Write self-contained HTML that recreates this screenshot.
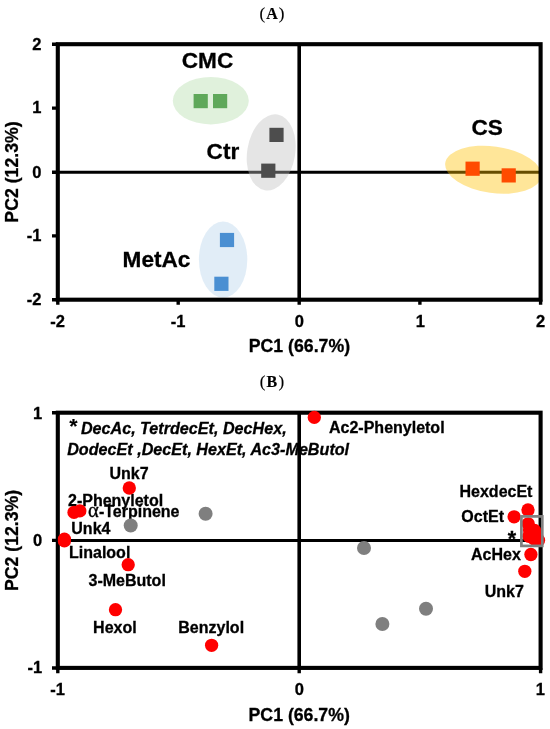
<!DOCTYPE html>
<html><head><meta charset="utf-8">
<style>
html,body{margin:0;padding:0;background:#fff;}
svg{display:block;}
text{font-family:"Liberation Sans",Arial,sans-serif;font-weight:bold;fill:#000;stroke:#000;stroke-width:0.3px;}
.t{font-size:16px;}
.k{font-size:16.5px;}
.g{font-size:22.6px;}
.ax{font-size:17.7px;}
.cap{font-family:"Liberation Serif",serif;font-size:17px;font-weight:normal;stroke-width:0.15px;}
.leg{font-style:italic;font-size:16.15px;}
</style></head><body>
<svg width="550" height="729" viewBox="0 0 550 729">
<rect width="550" height="729" fill="#fff"/>

<!-- ===== Panel A ===== -->
<text class="cap" x="272.5" y="18.5" text-anchor="middle" letter-spacing="1.1">(<tspan font-weight="bold" font-size="16px">A</tspan>)</text>

<g stroke="#000" fill="none">
  <!-- inner axes -->
  <line x1="57.7" y1="172.2" x2="540.6" y2="172.2" stroke-width="3"/>
  <line x1="299.2" y1="44.2" x2="299.2" y2="299.7" stroke-width="3.6"/>
</g>

<!-- ellipses -->
<ellipse cx="210.8" cy="100.7" rx="38" ry="23.7" fill="#64b950" fill-opacity="0.2"/>
<ellipse cx="271.2" cy="152.4" rx="24" ry="38.4" fill="#bebebe" fill-opacity="0.4" transform="rotate(9.5 271.2 152.4)"/>
<ellipse cx="223.1" cy="259.6" rx="24.2" ry="38" fill="#5b9bd5" fill-opacity="0.185"/>
<ellipse cx="493.3" cy="169.7" rx="48.5" ry="23.3" fill="#ffc000" fill-opacity="0.4" transform="rotate(8 493 169.5)"/>

<g stroke="#000" fill="none">
  <rect x="57.8" y="44.2" width="482.8" height="255.5" stroke-width="4.1"/>
  <!-- ticks -->
  <g stroke-width="3.4">
    <path d="M52 44.2H57.7M52 108.1H57.7M52 172.2H57.7M52 235.9H57.7M52 299.7H57.7"/>
    <path d="M57.8 299.7V304.8M178.2 299.7V304.8M299.2 299.7V304.8M419.9 299.7V304.8M540.6 299.7V304.8"/>
  </g>
</g>

<!-- markers -->
<g fill="#5fa85a">
  <rect x="193.6" y="94" width="14.2" height="14.2"/>
  <rect x="213" y="94" width="14.2" height="14.2"/>
</g>
<g fill="#4d4d4d">
  <rect x="269.4" y="127.8" width="14.2" height="14.2"/>
  <rect x="261.2" y="163.6" width="14.2" height="14.2"/>
</g>
<g fill="#4a8fd2">
  <rect x="219.9" y="232.9" width="14.2" height="14.2"/>
  <rect x="214.3" y="276.7" width="14.2" height="14.2"/>
</g>
<g fill="#ff4b00">
  <rect x="465.5" y="161.6" width="14.2" height="14.2"/>
  <rect x="501.6" y="168.3" width="14.2" height="14.2"/>
</g>

<!-- group labels -->
<text class="g" x="181.8" y="68.3">CMC</text>
<text class="g" x="206.6" y="158.6">Ctr</text>
<text class="g" x="122.6" y="267.3">MetAc</text>
<text class="g" x="471.5" y="135">CS</text>

<!-- tick labels -->
<g class="k" text-anchor="end" transform="translate(0.5 0)">
  <text x="41" y="49.8">2</text>
  <text x="41" y="113.1">1</text>
  <text x="41" y="177.8">0</text>
  <text x="41" y="240.8">-1</text>
  <text x="41" y="305.3">-2</text>
</g>
<g class="k" text-anchor="middle">
  <text x="57.7" y="326.7">-2</text>
  <text x="178.2" y="326.7">-1</text>
  <text x="299.3" y="326.7">0</text>
  <text x="420.3" y="326.7">1</text>
  <text x="540.6" y="326.7">2</text>
</g>
<text class="ax" x="299.4" y="351.7" text-anchor="middle">PC1 (66.7%)</text>
<text class="ax" transform="translate(18.1 172) rotate(-90)" text-anchor="middle">PC2 (12.3%)</text>

<!-- ===== Panel B ===== -->
<text class="cap" x="272.5" y="386.8" text-anchor="middle" letter-spacing="1.1">(<tspan font-weight="bold" font-size="16px">B</tspan>)</text>

<g stroke="#000" fill="none">
  <line x1="57.7" y1="540.4" x2="540.6" y2="540.4" stroke-width="3"/>
  <line x1="299.2" y1="412.7" x2="299.2" y2="668" stroke-width="3.6"/>
  <rect x="57.8" y="412.7" width="482.8" height="255.2" stroke-width="4.1"/>
  <g stroke-width="3.4">
    <path d="M52 412.7H57.7M52 540.4H57.7M52 668H57.7"/>
    <path d="M57.8 668V673.3M299.2 668V673.3M540.6 668V673.3"/>
  </g>
</g>

<!-- legend text -->
<text class="leg" x="81" y="433.8"><tspan x="68.4" y="433.4" font-size="21px" stroke-width="0.15">*</tspan><tspan x="80.9" y="433.8">DecAc, TetrdecEt, DecHex,</tspan></text>
<text class="leg" x="67.2" y="454.7">DodecEt ,DecEt, HexEt, Ac3-MeButol</text>

<!-- labels -->
<g class="t" transform="translate(0.5 0.3)">
  <text x="109" y="478.9">Unk7</text>
  <text x="67.5" y="505.5">2-Phenyletol</text>
  <text x="87.6" y="517"><tspan font-weight="normal" font-size="20.5px" font-family="'Liberation Serif',serif" stroke="#000" stroke-width="0.35">α</tspan><tspan x="98.4">-Terpinene</tspan></text>
  <text x="70.8" y="533.8">Unk4</text>
  <text x="68.5" y="557.5">Linalool</text>
  <text x="88" y="586.2">3-MeButol</text>
  <text x="92.6" y="632.8">Hexol</text>
  <text x="177.8" y="632.8">Benzylol</text>
  <text x="328.5" y="433.2">Ac2-Phenyletol</text>
  <text x="459" y="496.6">HexdecEt</text>
  <text x="460.8" y="521.3">OctEt</text>
  <text x="470.5" y="559.9">AcHex</text>
  <text x="484.2" y="596.4">Unk7</text>
  <text x="507.2" y="546.1" font-size="21.5px" stroke-width="0.15">*</text>
</g>

<!-- gray dots -->
<g fill="#7f7f7f">
  <circle cx="130.7" cy="525.5" r="7"/>
  <circle cx="205.6" cy="513.8" r="7"/>
  <circle cx="364" cy="548" r="7"/>
  <circle cx="426" cy="608.8" r="7"/>
  <circle cx="382.4" cy="624" r="7"/>
</g>
<!-- red dots -->
<g fill="#ff0000">
  <circle cx="314.3" cy="417.4" r="6.65"/>
  <circle cx="129.3" cy="488" r="6.65"/>
  <circle cx="74" cy="512.4" r="6.65"/>
  <circle cx="79.8" cy="510.9" r="6.65"/>
  <circle cx="64.4" cy="539.1" r="6.65"/>
  <circle cx="64.4" cy="540.9" r="6.65"/>
  <circle cx="128.2" cy="564.7" r="6.65"/>
  <circle cx="115.5" cy="609.7" r="6.65"/>
  <circle cx="211.6" cy="645.3" r="6.65"/>
  <circle cx="528" cy="510" r="6.65"/>
  <circle cx="514.1" cy="516.8" r="6.65"/>
  <circle cx="528.2" cy="523.8" r="6.65"/>
  <circle cx="529.5" cy="530" r="6.65"/>
  <circle cx="529" cy="536.3" r="6.65"/>
  <circle cx="534.5" cy="530.5" r="6.65"/>
  <circle cx="536.5" cy="535" r="6.65"/>
  <circle cx="538.5" cy="540.2" r="6.65"/>
  <circle cx="534" cy="538.8" r="6.65"/>
  <circle cx="530.9" cy="554.5" r="6.65"/>
  <circle cx="524.8" cy="571.3" r="6.65"/>
</g>
<rect x="521.4" y="516.4" width="20.9" height="29.5" fill="none" stroke="#808080" stroke-width="2.7"/>

<g class="k" text-anchor="end" transform="translate(1.1 0)">
  <text x="41" y="418.7">1</text>
  <text x="41" y="546">0</text>
  <text x="41" y="673.1">-1</text>
</g>
<g class="k" text-anchor="middle">
  <text x="57.7" y="694.8">-1</text>
  <text x="299.3" y="694.8">0</text>
  <text x="540.4" y="694.8">1</text>
</g>
<text class="ax" x="299.2" y="720.8" text-anchor="middle">PC1 (66.7%)</text>
<text class="ax" transform="translate(18.1 540.4) rotate(-90)" text-anchor="middle">PC2 (12.3%)</text>
</svg>
</body></html>
